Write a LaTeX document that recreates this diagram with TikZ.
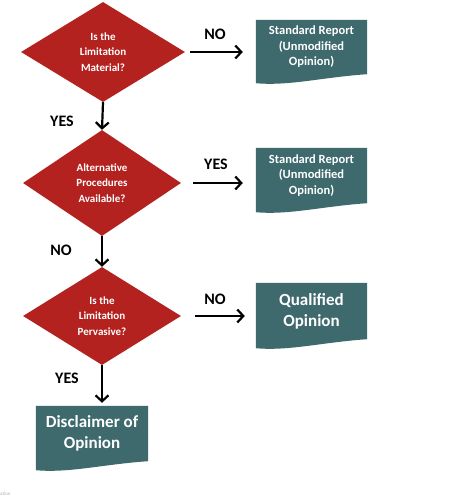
\documentclass[tikz,border=0pt]{standalone}
\usepackage{fontspec}
\setmainfont{Carlito}
\usetikzlibrary{shapes.geometric,arrows.meta,calc,backgrounds}
\definecolor{dred}{HTML}{B3221F}
\definecolor{dteal}{HTML}{3E6A6D}
\tikzset{
  dia/.style={diamond, fill=dred, inner sep=0pt, text=white, align=center,
    font=\bfseries\fontsize{11}{15.5}\selectfont},
  docbox/.style={inner sep=0pt, text=white, align=center},
  smalltxt/.style={font=\bfseries\fontsize{12.5}{15.5}\selectfont},
  bigtxt/.style={font=\bfseries\fontsize{17}{21}\selectfont},
  lbl/.style={font=\bfseries\fontsize{16}{18}\selectfont, text=black, inner sep=0pt},
  arr/.style={line width=2.2pt, -{Straight Barb[length=6pt,width=13pt,line width=2.2pt]}},
}
\newcommand\docshape[1]{%
  \fill[dteal] (#1.north west) -- (#1.north east) -- (#1.south east)
    .. controls ($(#1.south east)!0.4!(#1.south west)+(0,3)$)
    and ($(#1.south east)!0.7!(#1.south west)+(0,12)$)
    .. ($(#1.south west)+(0,9)$) -- cycle;}
\begin{document}
\begin{tikzpicture}[x=1pt,y=-1pt]
\useasboundingbox (0,0) rectangle (453,500);
% diamonds
\node[dia, minimum width=164pt, minimum height=100pt] (d1) at (103,52) {Is the\\Limitation\\Material?};
\node[dia, minimum width=158pt, minimum height=106pt] (d2) at (102,183) {Alternative\\Procedures\\Available?};
\node[dia, minimum width=158pt, minimum height=98pt] (d3) at (102,316) {Is the\\Limitation\\Pervasive?};
% boxes
\node[docbox, smalltxt, minimum width=111pt, minimum height=54pt] (b1) at (311.5,47) {Standard Report\\(Unmodified\\Opinion)};
\node[docbox, smalltxt, minimum width=111pt, minimum height=55pt] (b2) at (311.5,175.5) {Standard Report\\(Unmodified\\Opinion)};
\node[docbox, bigtxt, minimum width=111pt, minimum height=56pt] (b3) at (311.5,311) {Qualified\\Opinion};
\node[docbox, bigtxt, minimum width=112pt, minimum height=55pt] (b4) at (92,433.5) {Disclaimer of\\Opinion};
\begin{scope}[on background layer]
\fill[white] (0,0) rectangle (453,500);
\docshape{b1}\docshape{b2}\docshape{b3}\docshape{b4}
\end{scope}
% arrows
\draw[arr] (d1.south) -- (d2.north);
\draw[arr] (d2.south) -- (d3.north);
\draw[arr, shorten >=3pt] (d3.south) -- (d3.south |- b4.north);
\draw[arr, shorten <=5pt, shorten >=13pt] (d1.east) -- (d1.east -| b1.west);
\draw[arr, shorten <=12pt, shorten >=13pt] (d2.east) -- (d2.east -| b2.west);
\draw[arr, shorten <=14pt, shorten >=11pt] (d3.east) -- (d3.east -| b3.west);
% labels
\node[lbl] (l1) at (215,34) {NO};
\node[lbl] (l2) at (62,121) {YES};
\node[lbl] (l3) at (216,164) {YES};
\node[lbl] (l4) at (61,250) {NO};
\node[lbl] (l5) at (215,299) {NO};
\node[lbl] (l6) at (67,378) {YES};
\node[anchor=west, inner sep=0pt, text=gray!60, font=\fontsize{5}{6}\selectfont] (cap) at (0,494) {ation};
\end{tikzpicture}
\end{document}
